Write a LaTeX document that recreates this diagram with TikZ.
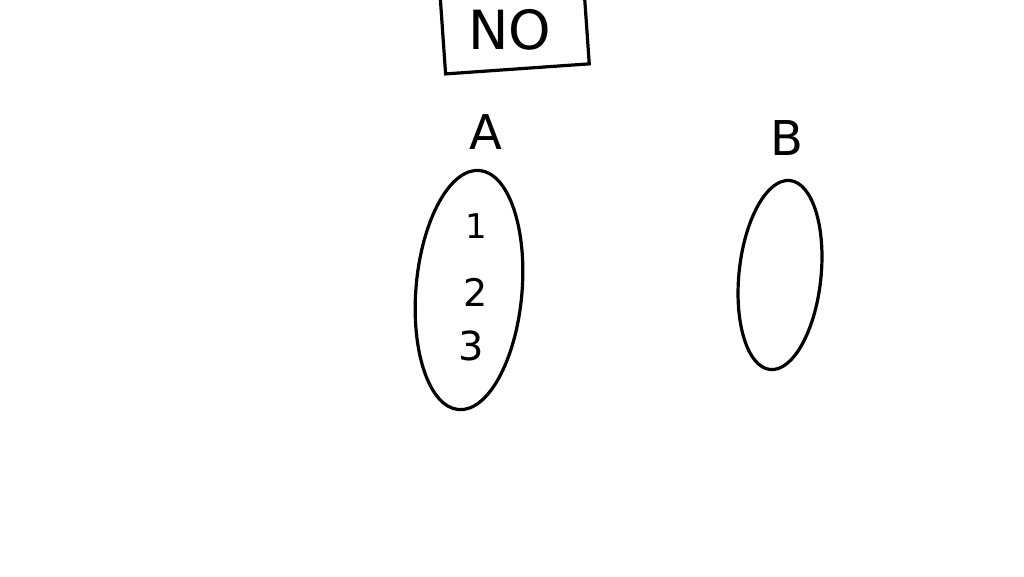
\documentclass[tikz,border=0pt]{standalone}
\usepackage{fontspec}
\setmainfont{DejaVu Sans}
\usetikzlibrary{shapes.geometric}
\tikzset{
  ink/.style={line width=3.2pt, draw=black},
  setshape/.style={ink, ellipse, inner sep=0pt},
  hand/.style={font=\fontsize{#1}{#1}\selectfont, inner sep=0pt},
}
\begin{document}
\begin{tikzpicture}[x=1pt,y=-1pt]
\useasboundingbox[fill=white] (0,0) rectangle (1024,576);
% title box
\node[ink, rectangle, minimum width=144pt, minimum height=98pt, rotate=4] (nobox) at (514,20) {};
\node[hand=54] (notext) at (510,30) {NO};
% labels
\node[hand=48] (labA) at (486,132) {A};
\node[hand=48] (labB) at (787,138) {B};
% sets
\node[setshape, minimum width=106pt, minimum height=240pt, rotate=-5] (setA) at (469,290) {};
\node[setshape, minimum width=82pt, minimum height=190pt, rotate=-6] (setB) at (780,275) {};
% elements
\node[hand=34] (e1) at (476,226) {1};
\node[hand=38] (e2) at (476,292) {2};
\node[hand=40] (e3) at (471,346) {3};
\end{tikzpicture}
\end{document}
